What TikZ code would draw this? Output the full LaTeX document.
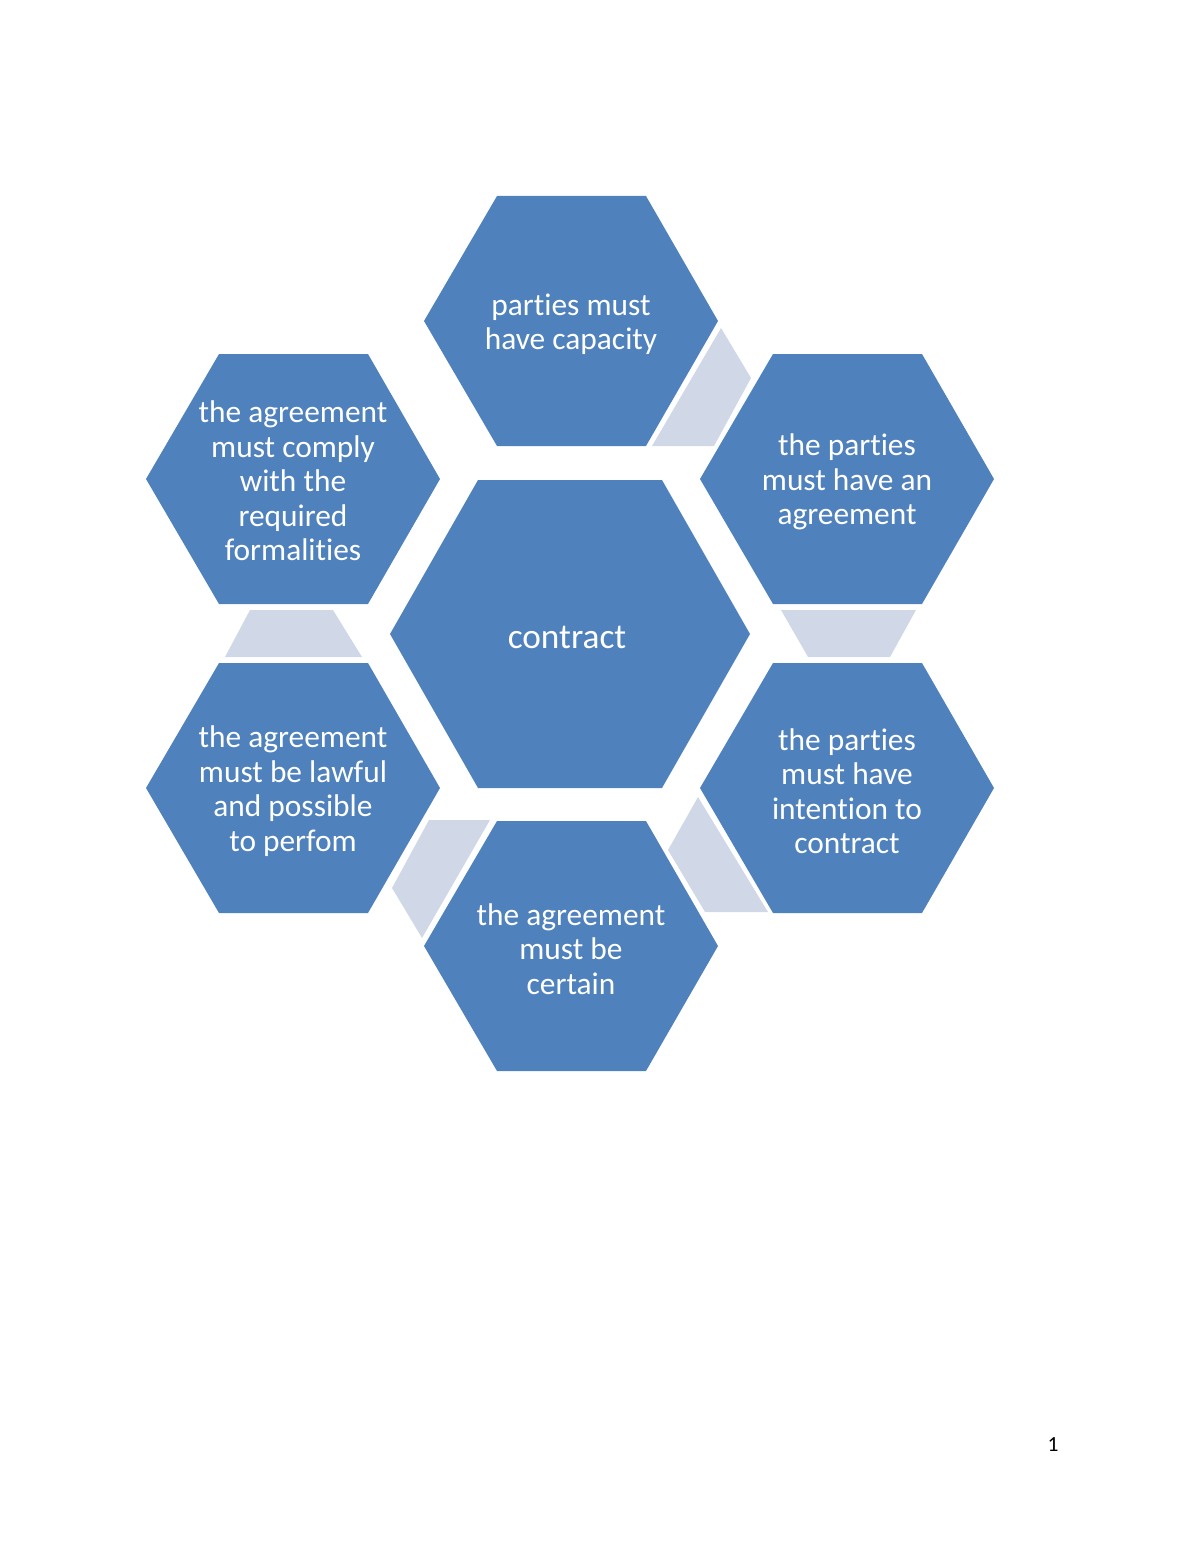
\documentclass[tikz,border=0pt]{standalone}
\usepackage{fontspec}
\setmainfont[Ligatures=NoCommon]{Carlito}
\usetikzlibrary{positioning}

\definecolor{hexblue}{HTML}{4F81BD}
\definecolor{linkgray}{HTML}{D0D8E8}

\tikzset{
  hexfill/.style={fill=hexblue},
  hextext/.style={text=white, align=center, font=\fontsize{16}{17.6}\selectfont},
  linkfill/.style={fill=linkgray}
}

\begin{document}
\begin{tikzpicture}[x=0.51pt, y=-0.51pt]
\useasboundingbox (0,0) rectangle (1200,1553);

% --- Centre hexagon ---
\fill[hexfill] (390,634) -- (478,480) -- (662,480) -- (750,634) -- (662,788) -- (478,788) -- cycle;
\node[hextext, font=\fontsize{18}{20}\selectfont] (contract) at (567,637) {contract};

% --- Outer hexagons ---
\foreach \cx/\cy in {571/321, 847/479, 847/788, 571/946, 293/788, 293/479} {
    \fill[hexfill] (\cx-147,\cy) -- (\cx-74,\cy-125) -- (\cx+75,\cy-125) -- (\cx+147,\cy)
        -- (\cx+75,\cy+125) -- (\cx-74,\cy+125) -- cycle;
}

\node[hextext] (capacity) at (571,324) {parties must\\have capacity};
\node[hextext] (agreement) at (847,482) {the parties\\must have an\\agreement};
\node[hextext] (intention) at (847,791) {the parties\\must have\\intention to\\contract};
\node[hextext] (certain) at (571,949) {the agreement\\must be\\certain};
\node[hextext] (lawful) at (293,791) {the agreement\\must be lawful\\and possible\\to perfom};
\node[hextext] (formal) at (293,481) {the agreement\\must comply\\with the\\required\\formalities};

% --- Light links between neighbours ---
\fill[linkfill] (652,446) -- (721,328) -- (751,378) -- (714,446) -- cycle;
\fill[linkfill] (781,610) -- (916,610) -- (890,657) -- (808,657) -- cycle;
\fill[linkfill] (698,797) -- (768,912) -- (705,912) -- (668,850) -- cycle;
\fill[linkfill] (429,820) -- (490,820) -- (422,938) -- (392,888) -- cycle;
\fill[linkfill] (250,610) -- (333,610) -- (362,657) -- (225,657) -- cycle;

% --- Page number ---
\node[font=\fontsize{11}{13}\selectfont] (pagenum) at (1053,1445) {1};

\end{tikzpicture}
\end{document}
